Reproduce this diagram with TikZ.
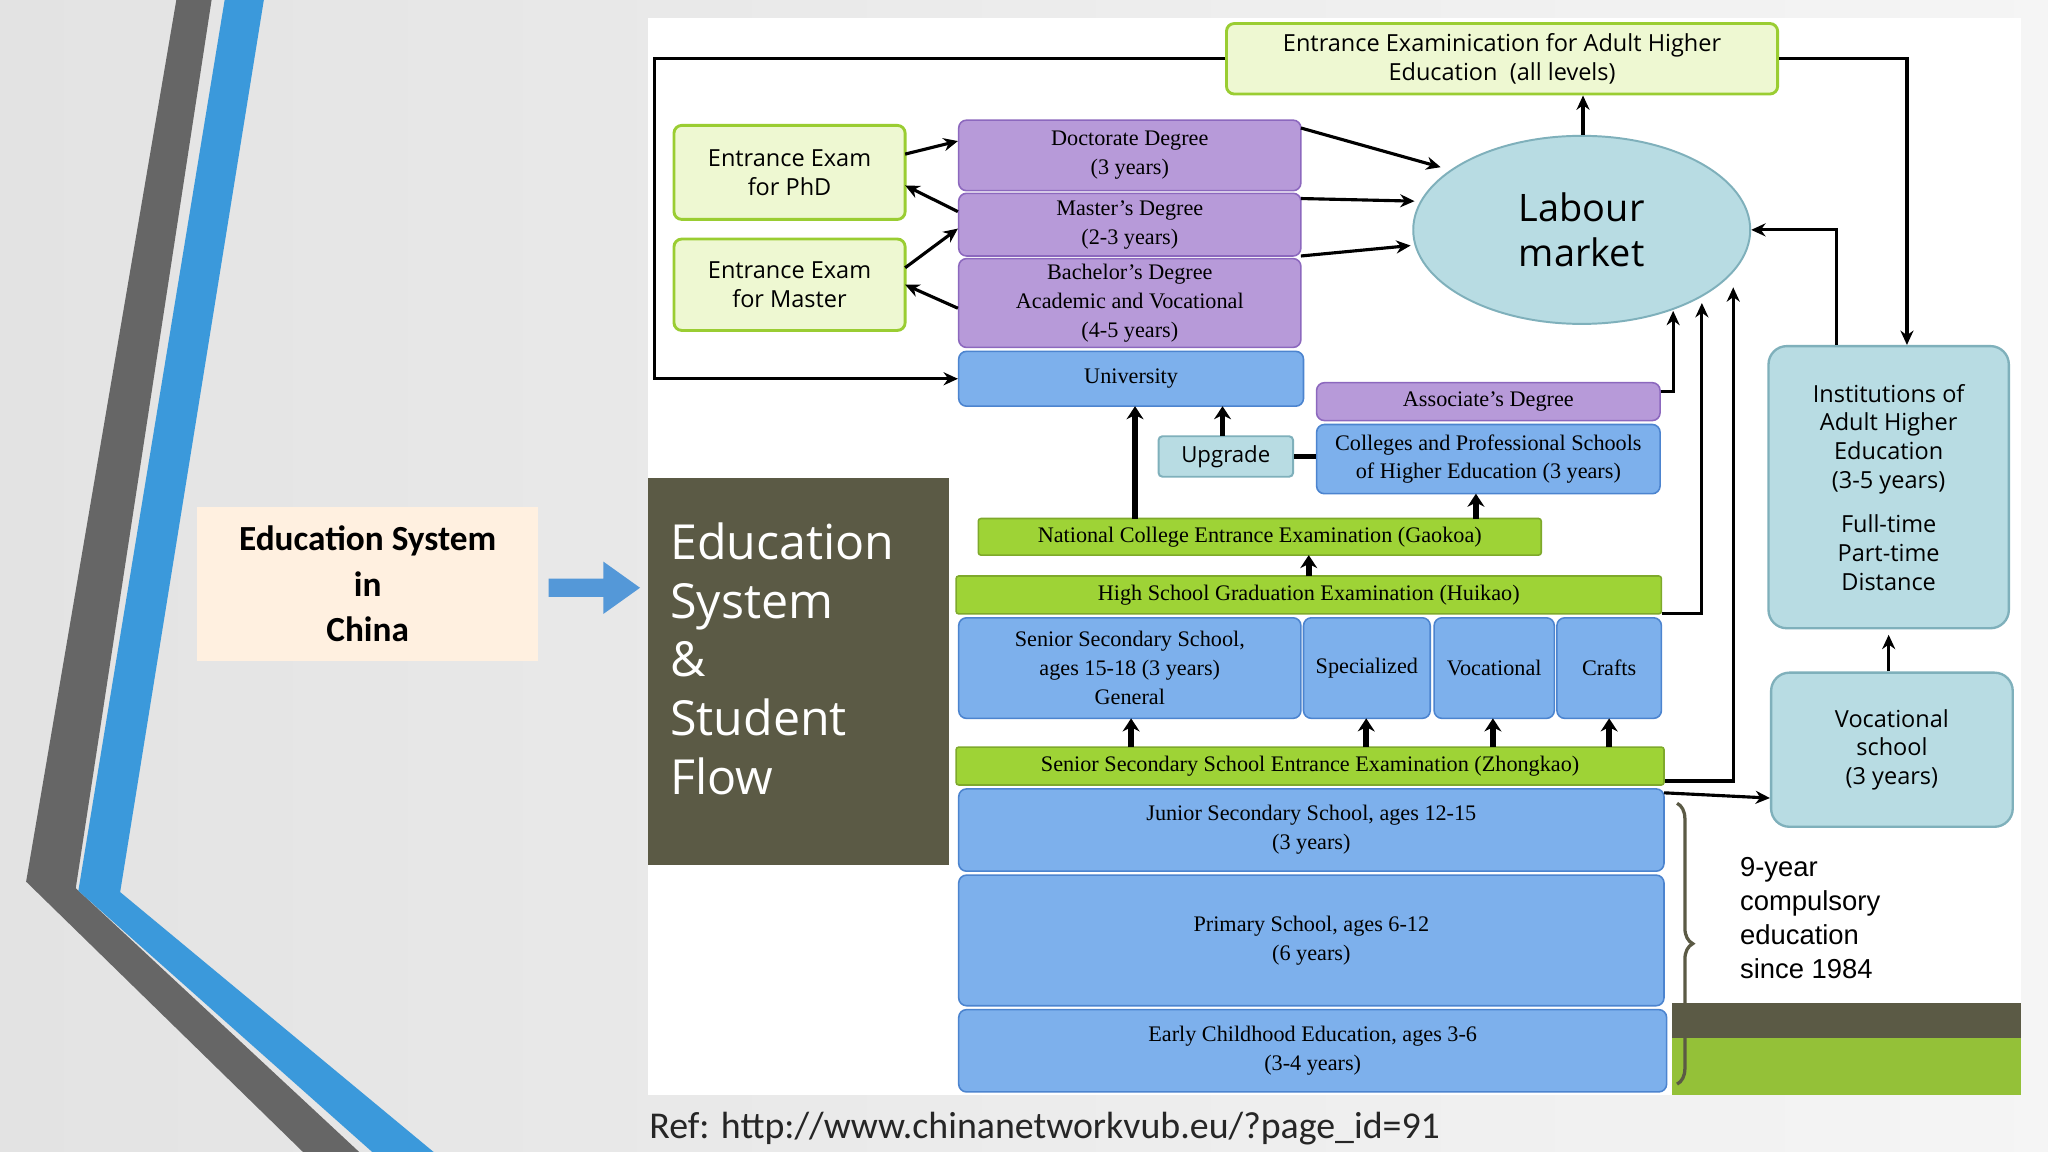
\documentclass[tikz,border=0pt]{standalone}
\usepackage{fontspec}
\setmainfont{Liberation Serif}
\newfontfamily\osans{Open Sans}
\newfontfamily\carl{Carlito}
\usetikzlibrary{arrows.meta,decorations.pathreplacing,shapes.geometric}
\definecolor{pfill}{HTML}{B79AD9}\definecolor{pdraw}{HTML}{8C68BE}
\definecolor{bfill}{HTML}{7DB0EC}\definecolor{bdraw}{HTML}{4C84CF}
\definecolor{gfill}{HTML}{EEF8D2}\definecolor{gdraw}{HTML}{9ACD32}
\definecolor{barf}{HTML}{9ED336}
\definecolor{tfill}{HTML}{B8DCE3}\definecolor{tdraw}{HTML}{7FB0BB}
\definecolor{olive}{HTML}{5B5A45}
\tikzset{
 base/.style={rounded corners=6pt,line width=1.2pt,inner sep=0pt,align=center},
 purp/.style={base,fill=pfill,draw=pdraw,font=\fontsize{17}{22}\selectfont},
 blu/.style={base,fill=bfill,draw=bdraw,font=\fontsize{17}{22}\selectfont},
 grn/.style={base,fill=gfill,draw=gdraw,line width=2.2pt,font=\osans\fontsize{18}{22}\selectfont},
 bar/.style={base,rounded corners=2pt,fill=barf,draw=barf!80!black,font=\fontsize{17}{20}\selectfont},
 teal/.style={base,fill=tfill,draw=tdraw,line width=1.8pt,font=\osans\fontsize{18}{22}\selectfont},
 arr/.style={line width=2.4pt,-{Stealth[length=11pt,width=10pt]}},
 thk/.style={line width=4.5pt,-{Stealth[length=10pt,width=13pt]}}
}
\newcommand\mybox[7]{\node[#6,minimum width={(#4-#2)*1pt},minimum height={(#5-#3)*1pt}] (#1) at ({(#2+#4)/2},{(#3+#5)/2}) {#7};}
\begin{document}
\begin{tikzpicture}[x=1pt,y=-1pt]
\useasboundingbox (0,0) rectangle (1568,882);
\shade[left color=gray!22,right color=gray!8] (0,0) rectangle (1568,882);
% stripes
\fill[gray!80!black] (135,0)--(162,0)--(58,680)--(275,882)--(232,882)--(20,675)--cycle;
\fill[cyan!70!blue!80] (172,0)--(202,0)--(92,683)--(332,882)--(285,882)--(60,682)--cycle;
% title
\node[fill=orange!12,minimum width=261pt,minimum height=118pt,align=center,font=\carl\bfseries\fontsize{27}{35}\selectfont] (title) at (281.5,447) {Education System\\in\\China};
\fill[cyan!60!blue!70] (420,443)--(462,443)--(462,430)--(490,450)--(462,470)--(462,457)--(420,457)--cycle;
% panel
\fill[white] (496,14) rectangle (1547,838);
\fill[olive] (1280,768) rectangle (1547,795);
\fill[barf!85!olive] (1280,795) rectangle (1547,838);
\node[fill=olive,minimum width=230pt,minimum height=296pt,anchor=north west,inner sep=0pt] (dark) at (496,366) {};
\node[text=white,align=left,anchor=north west,inner sep=0pt,font=\osans\fontsize{37}{45}\selectfont] (darkt) at (513,400) {Education\\System\\\&\\Student\\Flow};
% boxes
\mybox{adult}{939}{18}{1361}{72}{grn}{Entrance Examinication for Adult Higher\\Education\ \ (all levels)}
\mybox{ephd}{516}{96}{693}{168}{grn}{Entrance Exam\\for PhD}
\mybox{emas}{516}{183}{693}{253}{grn}{Entrance Exam\\for Master}
\mybox{doc}{734}{92}{996}{146}{purp}{Doctorate Degree\\(3 years)}
\mybox{mas}{734}{148}{996}{196}{purp}{Master's Degree\\(2-3 years)}
\mybox{bac}{734}{198}{996}{266}{purp}{Bachelor's Degree\\Academic and Vocational\\(4-5 years)}
\mybox{uni}{734}{269}{998}{311}{blu}{University}
\node[ellipse,draw=tdraw,fill=tfill,line width=1.5pt,minimum width=258pt,minimum height=144pt,inner sep=0pt,align=center,font=\osans\fontsize{29}{34}\selectfont] (lab) at (1211,176) {Labour\\market};
\mybox{asso}{1008}{293}{1271}{322}{purp}{Associate's Degree}
\mybox{coll}{1008}{325}{1271}{378}{blu}{Colleges and Professional Schools\\of Higher Education (3 years)}
\mybox{upg}{887}{334}{990}{365}{teal,rounded corners=3pt,line width=1.5pt,font=\osans\fontsize{17}{20}\selectfont}{Upgrade}
\mybox{gao}{749}{397}{1180}{425}{bar}{National College Entrance Examination (Gaokoa)}
\mybox{hui}{732}{441}{1272}{470}{bar}{High School Graduation Examination (Huikao)}
\mybox{gen}{734}{473}{996}{550}{blu}{Senior Secondary School,\\ages 15-18 (3 years)\\General}
\mybox{spe}{998}{473}{1095}{550}{blu}{Specialized}
\mybox{voc}{1098}{473}{1190}{550}{blu}{Vocational}
\mybox{cra}{1192}{473}{1272}{550}{blu}{Crafts}
\mybox{zho}{732}{572}{1274}{601}{bar}{Senior Secondary School Entrance Examination (Zhongkao)}
\mybox{jun}{734}{604}{1274}{667}{blu}{Junior Secondary School, ages 12-15\\(3 years)}
\mybox{pri}{734}{670}{1274}{770}{blu}{Primary School, ages 6-12\\(6 years)}
\mybox{ear}{734}{773}{1276}{836}{blu}{Early Childhood Education, ages 3-6\\(3-4 years)}
\mybox{inst}{1354}{265}{1538}{481}{teal,rounded corners=14pt}{Institutions of\\Adult Higher\\Education\\(3-5 years)\\[12pt]Full-time\\Part-time\\Distance}
\mybox{vsch}{1356}{515}{1541}{633}{teal,rounded corners=14pt}{Vocational\\school\\(3 years)}
% brace and text
\draw[line width=2.5pt,olive,decorate,decoration={brace,amplitude=12pt}] (1284,615) -- (1284,830);
\node[anchor=north west,align=left,inner sep=0pt,font=\fontspec{Liberation Sans}\fontsize{21}{26}\selectfont] (nine) at (1332,656) {9-year\\compulsory\\education\\since 1984};
\node[anchor=west,inner sep=0pt,font=\carl\fontsize{29}{30}\selectfont,text=black!85] (ref) at (497,864) {Ref: http://www.chinanetworkvub.eu/?page\_id=91};
% connectors
\draw[arr] (adult.west |- 0,45) -- (501,45) -- (501,290) -- (uni.west |- 0,290);
\draw[arr] (adult.east |- 0,45) -- (1460,45) -- (inst.north -| 1460,0);
\draw[arr] (1212,103) -- (adult.south -| 1212,0);
\draw[arr] (693,118) -- (doc.west |- 0,108);
\draw[arr] (mas.west |- 0,162) -- (693,142);
\draw[arr] (693,205) -- (mas.west |- 0,175);
\draw[arr] (bac.west |- 0,236) -- (693,218);
\draw[arr] (996,98) -- (1103,128);
\draw[arr] (996,152) -- (1083,154);
\draw[arr] (996,196) -- (1080,188);
\draw[thk] (869,397) -- (869,311);
\draw[thk] (936,334) -- (936,311);
\draw[line width=4.5pt] (upg.east) -- (coll.west |- upg.east);
\draw[arr] (asso.east |- 0,300) -- (1281,300) -- (1281,238);
\draw[arr] (hui.east |- 0,470) -- (1303,470) -- (1303,232);
\draw[arr] (zho.east |- 0,598) -- (1327,598) -- (1327,220);
\draw[arr] (1274,607) -- (vsch.west |- 0,611);
\draw[arr] (vsch.north -| 1446,0) -- (1446,486);
\draw[arr] (inst.north -| 1406,0) -- (1406,176) -- (lab.east);
\draw[thk] (1130,397) -- (1130,378);
\draw[thk] (1002,441) -- (1002,425);
\foreach \xx in {866,1046,1143,1232} \draw[thk] (\xx,572) -- (\xx,550);
\end{tikzpicture}
\end{document}
